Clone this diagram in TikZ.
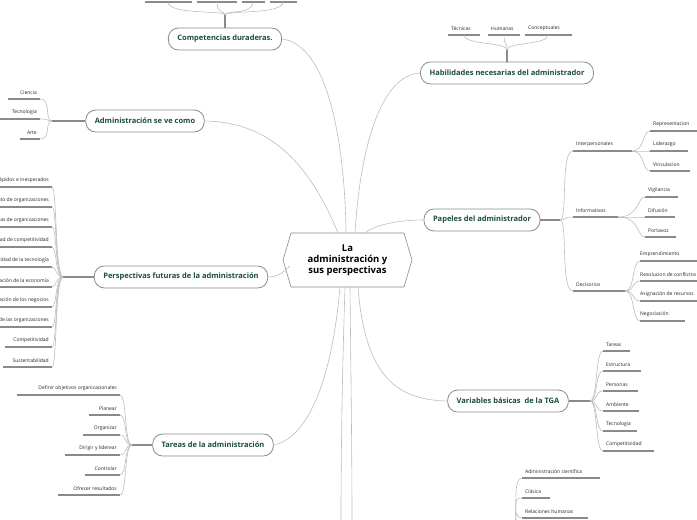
\documentclass[tikz,border=0pt]{standalone}
\usepackage{fontspec}
\setmainfont{Open Sans}
\begin{document}
\definecolor{tg}{HTML}{1B4D3E}
\definecolor{bd}{HTML}{8A8A8A}
\definecolor{cn}{HTML}{BDBDBD}
\begin{tikzpicture}[x=1pt,y=-1pt,
  main/.style={draw=bd,line width=0.8pt,rounded corners=10pt,fill=white,text=tg,font=\bfseries\fontsize{7.5}{8}\selectfont,minimum height=22pt,inner xsep=9pt},
  conn/.style={draw=cn,line width=0.6pt},
  stem/.style={draw=bd,line width=1.2pt},
  ul/.style={draw=bd,line width=1.1pt},
  lt/.style={font=\fontsize{5}{6}\selectfont,inner sep=0pt,text=black!85}]
\useasboundingbox (0,0) rectangle (697,520);
\clip (0,0) rectangle (697,520);
\newcommand\rleaf[5]{%
  \coordinate (#1) at (#2,#4);
  \draw[ul] (#2,#4) -- (#3,#4);
  \node[lt,anchor=south west] at (#2+3,#4-4) {#5};}
\newcommand\lleaf[5]{%
  \coordinate (#1) at (#3,#4);
  \draw[ul] (#2,#4) -- (#3,#4);
  \node[lt,anchor=south east] at (#3-3,#4-4) {#5};}

% centre
\draw[bd,line width=0.6pt,fill=white] (291,233)--(404,233)--(412,260)--(404,287)--(291,287)--(283,260)--cycle;
\node[align=center,font=\bfseries\fontsize{9.5}{11}\selectfont] (c) at (347.5,260) {La\\administración y\\sus perspectivas};

% main nodes
\node[main] (comp) at (225,39) {Competencias duraderas.};
\node[main] (hab) at (507,73) {Habilidades necesarias del administrador};
\node[main] (adm) at (145,121) {Administración se ve como};
\node[main] (pap) at (482,220) {Papeles del administrador};
\node[main] (per) at (181,277) {Perspectivas futuras de la administración};
\node[main] (var) at (508,401) {Variables básicas \ de la TGA};
\node[main] (tar) at (213,445) {Tareas de la administración};

% connectors from centre
\draw[conn] (comp.east) .. controls (330,45) and (345,150) .. (346,233);
\draw[conn] (adm.east) .. controls (250,122) and (300,140) .. (338,233);
\draw[conn] (hab.west) .. controls (380,75) and (360,150) .. (355,233);
\draw[conn] (pap.west) .. controls (390,220) and (370,228) .. (365,233);
\draw[conn] (per.east) .. controls (280,277) and (285,270) .. (290,266);
\draw[conn] (var.west) .. controls (400,400) and (365,380) .. (358,287);
\draw[conn] (tar.east) .. controls (300,440) and (330,400) .. (340,287);
\draw[conn] (345,287) .. controls (342,380) and (341,460) .. (341,520);
\draw[conn] (350,287) .. controls (351,380) and (352,460) .. (352,520);

% Competencias duraderas
\coordinate (cb) at (225,15);
\draw[stem] (comp.north) -- (cb);
\draw[ul] (145,2)--(192,2); \draw[ul] (197,2)--(237,2); \draw[ul] (242,2)--(265,2); \draw[ul] (270,2)--(297,2);
\coordinate (c1) at (168,2); \coordinate (c2) at (217,2); \coordinate (c3) at (253,2); \coordinate (c4) at (283,2);
\foreach \q in {c1,c2,c3,c4} \draw[conn] (cb) .. controls (225,10) and (\q|-cb) .. (\q);

% Habilidades
\coordinate (hb) at (507,50);
\draw[stem] (hab.north) -- (hb);
\rleaf{h1}{448}{480}{35}{Técnicas}
\rleaf{h2}{488}{520}{35}{Humanas}
\rleaf{h3}{525}{572}{35}{Conceptuales}
\draw[conn] (hb) .. controls (507,42) and (464,45) .. (464,35);
\draw[conn] (hb) .. controls (507,42) and (504,45) .. (504,35);
\draw[conn] (hb) .. controls (507,42) and (548,45) .. (548,35);

% Administración se ve como
\coordinate (ab) at (52,121);
\draw[stem] (adm.west) -- (ab);
\lleaf{a1}{8}{40}{99}{Ciencia}
\lleaf{a2}{0}{40}{119}{Tecnologia}
\lleaf{a3}{20}{40}{139}{Arte}
\foreach \q in {a1,a2,a3} \draw[conn] (ab) .. controls (44,121) and (ab|-\q) .. (\q);

% Perspectivas
\coordinate (pb) at (63,277);
\draw[stem] (per.west) -- (pb);
\foreach \y/\q/\xl in {187/Cambios rápidos e inesperados/0,207/Crecimiento de organizaciones/0,227/Nuevas formas de organizaciones/0,247/Necesidad de competitividad/0,267/Volatilidad de la tecnología/0,287/Internacionalización de la economía/0,307/Globalización de los negocios/0,327/Visibilidad de las organizaciones/0,347/Competitividad/5,367/Sustentabilidad/3}{
  \draw[ul] (\xl,\y) -- (52,\y);
  \node[lt,anchor=south east] at (49,\y-4) {\q};
  \draw[conn] (pb) .. controls (55,277) and (57,\y) .. (52,\y);}

% Tareas
\coordinate (tb) at (132,445);
\draw[stem] (tar.west) -- (tb);
\foreach \y/\q/\xl in {395/Definir objetivos organizacionales/17,415/Planear/89,435/Organizar/83,455/Dirigir y liderear/65,475/Controlar/85,495/Ofrecer resultados/58}{
  \draw[ul] (\xl,\y) -- (120,\y);
  \node[lt,anchor=south east] at (117,\y-4) {\q};
  \draw[conn] (tb) .. controls (124,445) and (127,\y) .. (120,\y);}

% Papeles
\coordinate (ppb) at (560,220);
\draw[stem] (pap.east) -- (ppb);
\rleaf{p1}{573}{632}{151}{Interpersonales}
\rleaf{p2}{573}{618}{217}{Informativos}
\rleaf{p3}{573}{625}{291}{Decisorios}
\foreach \q in {p1,p2,p3} \draw[conn] (ppb) .. controls (568,220) and (ppb|-\q) .. (\q);
\foreach \y/\q/\xr in {131/Representacion/697,151/Liderazgo/688,171/Vinculacion/690}{
  \draw[ul] (650,\y) -- (\xr,\y); \node[lt,anchor=south west] at (653,\y-4) {\q};
  \draw[conn] (632,151) .. controls (645,151) and (642,\y) .. (650,\y);}
\foreach \y/\q/\xr in {197/Vigilancia/678,217/Difusión/675,237/Portavoz/676}{
  \draw[ul] (645,\y) -- (\xr,\y); \node[lt,anchor=south west] at (648,\y-4) {\q};
  \draw[conn] (618,217) .. controls (640,217) and (637,\y) .. (645,\y);}
\foreach \y/\q/\xr in {261/Emprendimiento/697,281/Resolucion de conflictos/697,301/Asignación de recursos/697,321/Negociación/685}{
  \draw[ul] (640,\y) -- (\xr,\y); \node[lt,anchor=south west] at (640,\y-4) {\q};
  \draw[conn] (625,291) .. controls (635,291) and (632,\y) .. (640,\y);}

% Variables
\coordinate (vb) at (590,401);
\draw[stem] (var.east) -- (vb);
\foreach \y/\q/\xr in {351/Tareas/630,371/Estructura/641,391/Personas/638,411/Ambiente/639,431/Tecnologia/637,451/Competitividad/654}{
  \draw[ul] (603,\y) -- (\xr,\y); \node[lt,anchor=south west] at (606,\y-4) {\q};
  \draw[conn] (vb) .. controls (598,401) and (595,\y) .. (603,\y);}

% Bottom right
\coordinate (bb) at (516,530);
\foreach \y/\q/\xr in {478/Administración científica/600,498/Clásica/550,518/Relaciones humanas/588}{
  \draw[ul] (522,\y) -- (\xr,\y); \node[lt,anchor=south west] at (525,\y-4) {\q};
  \draw[conn] (bb) .. controls (516,500) and (514,\y) .. (522,\y);}
\end{tikzpicture}
\end{document}
